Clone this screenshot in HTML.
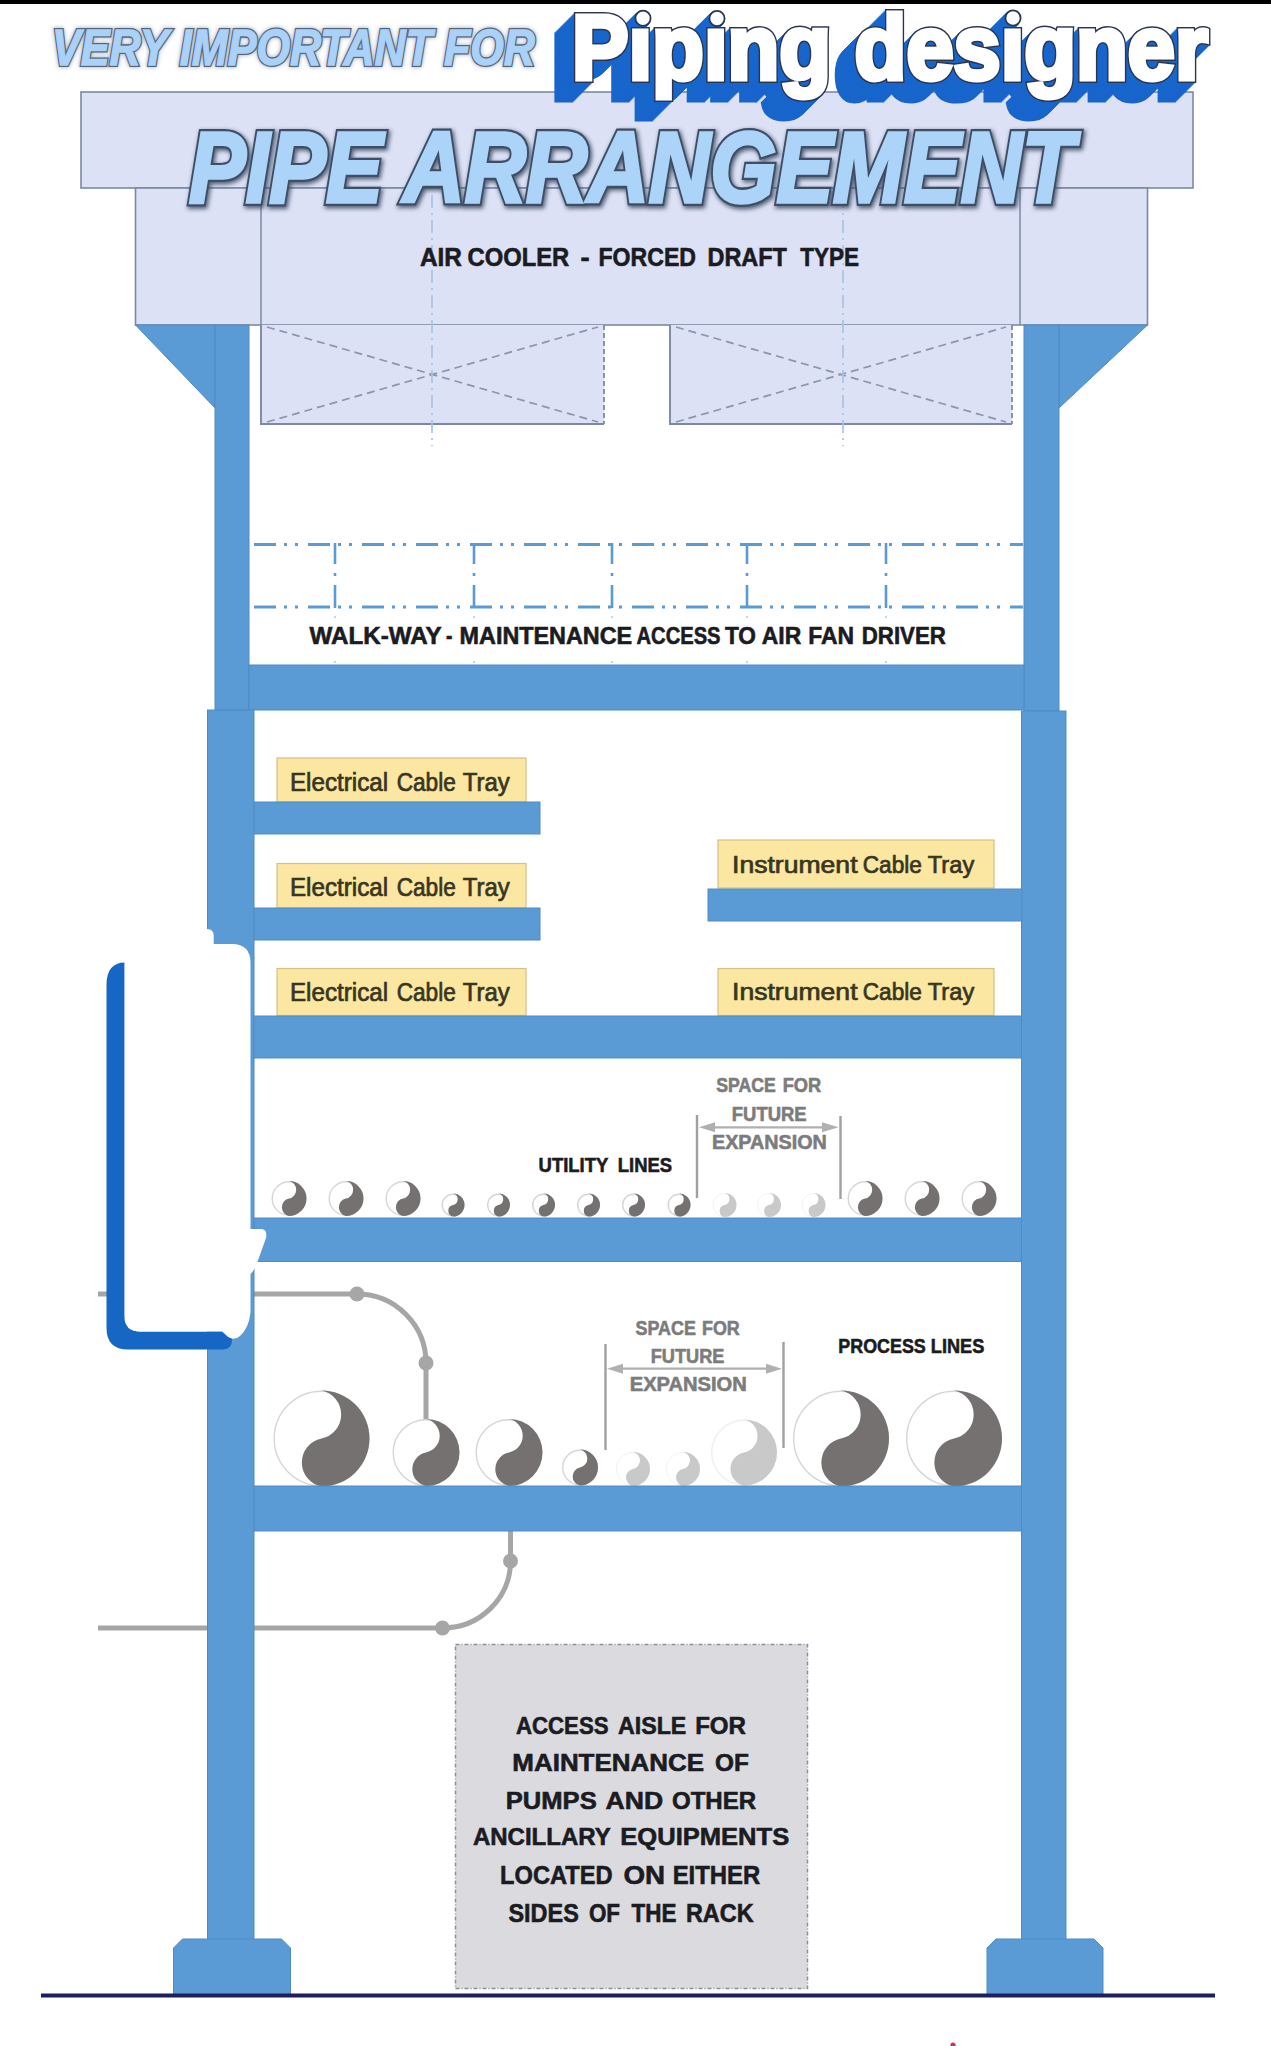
<!DOCTYPE html>
<html><head><meta charset="utf-8"><title>Pipe Arrangement</title>
<style>html,body{margin:0;padding:0;background:#fff;width:1271px;height:2046px;overflow:hidden} svg{display:block}</style>
</head><body>
<svg width="1271" height="2046" viewBox="0 0 1271 2046">
<rect x="0" y="0" width="1271" height="2046" fill="#fff"/>
<rect x="0" y="0" width="1271" height="4" fill="#000"/>
<rect x="81" y="92" width="1112" height="96" fill="#dde1f6" stroke="#7b8aa2" stroke-width="1.6"/>
<rect x="135.5" y="188" width="1012" height="137" fill="#dde1f6" stroke="#7b8aa2" stroke-width="1.6"/>
<line x1="261" y1="188" x2="261" y2="325" stroke="#7b8aa2" stroke-width="1.5"/>
<line x1="1020" y1="188" x2="1020" y2="325" stroke="#7b8aa2" stroke-width="1.5"/>
<rect x="261" y="325" width="343" height="99" fill="#dde1f6"/>
<path d="M261,325 V424 H604" fill="none" stroke="#7b8aa2" stroke-width="1.9"/>
<line x1="604" y1="325" x2="604" y2="424" stroke="#7b8aa2" stroke-width="1.8" stroke-dasharray="5 3"/>
<line x1="267" y1="327" x2="598" y2="422" stroke="#8a96ab" stroke-width="1.7" stroke-dasharray="8 5"/>
<line x1="267" y1="422" x2="598" y2="327" stroke="#8a96ab" stroke-width="1.7" stroke-dasharray="8 5"/>
<rect x="670" y="325" width="342" height="99" fill="#dde1f6"/>
<path d="M670,325 V424 H1012" fill="none" stroke="#7b8aa2" stroke-width="1.9"/>
<line x1="1012" y1="325" x2="1012" y2="424" stroke="#7b8aa2" stroke-width="1.8" stroke-dasharray="5 3"/>
<line x1="676" y1="327" x2="1006" y2="422" stroke="#8a96ab" stroke-width="1.7" stroke-dasharray="8 5"/>
<line x1="676" y1="422" x2="1006" y2="327" stroke="#8a96ab" stroke-width="1.7" stroke-dasharray="8 5"/>
<line x1="432" y1="195" x2="432" y2="446" stroke="#a8c4e6" stroke-width="1.7" stroke-dasharray="13 5 2 5"/>
<line x1="843" y1="195" x2="843" y2="446" stroke="#a8c4e6" stroke-width="1.7" stroke-dasharray="13 5 2 5"/>
<path d="M135.5,325 H215 V408 Z" fill="#5b9bd5" stroke="#4e8bc4" stroke-width="1"/>
<path d="M1059,325 H1147.5 L1059,408 Z" fill="#5b9bd5" stroke="#4e8bc4" stroke-width="1"/>
<rect x="215" y="325" width="34" height="385" fill="#5b9bd5" stroke="#4e8bc4" stroke-width="1"/>
<rect x="1024" y="325" width="35" height="386" fill="#5b9bd5" stroke="#4e8bc4" stroke-width="1"/>
<line x1="254" y1="544.5" x2="1023" y2="544.5" stroke="#5b9bd5" stroke-width="3" stroke-dasharray="22 8 3 8 3 10"/>
<line x1="254" y1="607" x2="1023" y2="607" stroke="#5b9bd5" stroke-width="3" stroke-dasharray="22 8 3 8 3 10"/>
<line x1="335" y1="543" x2="335" y2="608" stroke="#5b9bd5" stroke-width="2.6" stroke-dasharray="21 9 3 9 23"/>
<circle cx="335" cy="617" r="1.2" fill="#c9d6e6"/><circle cx="335" cy="662" r="1.2" fill="#c9d6e6"/>
<line x1="474" y1="543" x2="474" y2="608" stroke="#5b9bd5" stroke-width="2.6" stroke-dasharray="21 9 3 9 23"/>
<circle cx="474" cy="617" r="1.2" fill="#c9d6e6"/><circle cx="474" cy="662" r="1.2" fill="#c9d6e6"/>
<line x1="612" y1="543" x2="612" y2="608" stroke="#5b9bd5" stroke-width="2.6" stroke-dasharray="21 9 3 9 23"/>
<circle cx="612" cy="617" r="1.2" fill="#c9d6e6"/><circle cx="612" cy="662" r="1.2" fill="#c9d6e6"/>
<line x1="747" y1="543" x2="747" y2="608" stroke="#5b9bd5" stroke-width="2.6" stroke-dasharray="21 9 3 9 23"/>
<circle cx="747" cy="617" r="1.2" fill="#c9d6e6"/><circle cx="747" cy="662" r="1.2" fill="#c9d6e6"/>
<line x1="886" y1="543" x2="886" y2="608" stroke="#5b9bd5" stroke-width="2.6" stroke-dasharray="21 9 3 9 23"/>
<circle cx="886" cy="617" r="1.2" fill="#c9d6e6"/><circle cx="886" cy="662" r="1.2" fill="#c9d6e6"/>
<rect x="249" y="665" width="775" height="45" fill="#5b9bd5" stroke="#4e8bc4" stroke-width="1"/>
<path d="M98,1294 H357 A69,69 0 0 1 426,1363 V1420" fill="none" stroke="#a6a6a6" stroke-width="5"/>
<circle cx="357" cy="1294" r="7.5" fill="#a6a6a6"/><circle cx="426" cy="1363" r="7.5" fill="#a6a6a6"/>
<path d="M510.5,1531 V1561 A68,67 0 0 1 442.5,1628 H98" fill="none" stroke="#a6a6a6" stroke-width="5"/>
<circle cx="510.5" cy="1561" r="7.5" fill="#a6a6a6"/><circle cx="442.5" cy="1628" r="7.5" fill="#a6a6a6"/>
<rect x="207.5" y="710" width="46.5" height="1230" fill="#5b9bd5" stroke="#4e8bc4" stroke-width="1"/>
<rect x="1021.5" y="711" width="44.5" height="1229" fill="#5b9bd5" stroke="#4e8bc4" stroke-width="1"/>
<path d="M173.5,1995 V1948 L182.5,1939 H281.5 L290.5,1948 V1995 Z" fill="#5b9bd5" stroke="#4e8bc4" stroke-width="1"/>
<path d="M987,1995 V1948 L996,1939 H1094 L1103,1948 V1995 Z" fill="#5b9bd5" stroke="#4e8bc4" stroke-width="1"/>
<rect x="41" y="1993.5" width="1174" height="4" fill="#1d1f5e"/>
<circle cx="953" cy="2045" r="2.6" fill="#d2305c"/>
<rect x="277" y="758" width="249" height="44" fill="#fbe6a2" stroke="#d5c089" stroke-width="1.2"/>
<rect x="254" y="802" width="286" height="32" fill="#5b9bd5" stroke="#4e8bc4" stroke-width="1"/>
<rect x="277" y="863.5" width="249" height="44.5" fill="#fbe6a2" stroke="#d5c089" stroke-width="1.2"/>
<rect x="254" y="908" width="286" height="32" fill="#5b9bd5" stroke="#4e8bc4" stroke-width="1"/>
<rect x="277" y="968.5" width="249" height="47" fill="#fbe6a2" stroke="#d5c089" stroke-width="1.2"/>
<rect x="718" y="840" width="276" height="48" fill="#fbe6a2" stroke="#d5c089" stroke-width="1.2"/>
<rect x="708" y="889" width="314" height="32" fill="#5b9bd5" stroke="#4e8bc4" stroke-width="1"/>
<rect x="718" y="968.5" width="276" height="47" fill="#fbe6a2" stroke="#d5c089" stroke-width="1.2"/>
<rect x="254" y="1016" width="767.5" height="42" fill="#5b9bd5" stroke="#4e8bc4" stroke-width="1"/>
<line x1="697" y1="1115" x2="697" y2="1198" stroke="#a0a0a0" stroke-width="2.4"/>
<line x1="840.5" y1="1116" x2="840.5" y2="1199" stroke="#a0a0a0" stroke-width="2.4"/>
<line x1="708" y1="1127.3" x2="830" y2="1127.3" stroke="#b0b0b0" stroke-width="2.2"/>
<path d="M699,1127.3 L715,1122.3 L715,1132.3 Z" fill="#b0b0b0"/><path d="M838.5,1127.3 L822,1122.3 L822,1132.3 Z" fill="#b0b0b0"/>
<g><circle cx="289" cy="1198.5" r="16.80" fill="#fff" stroke="#d6d6d6" stroke-width="1.4"/><path d="M289,1181.0 A17.5,17.5 0 0 1 289,1216.0 A8.93,8.93 0 0 1 289,1198.5 A8.93,8.93 0 0 0 289,1181.0 Z" fill="#767171"/></g>
<g><circle cx="346" cy="1198.5" r="16.80" fill="#fff" stroke="#d6d6d6" stroke-width="1.4"/><path d="M346,1181.0 A17.5,17.5 0 0 1 346,1216.0 A8.93,8.93 0 0 1 346,1198.5 A8.93,8.93 0 0 0 346,1181.0 Z" fill="#767171"/></g>
<g><circle cx="403" cy="1198.5" r="16.80" fill="#fff" stroke="#d6d6d6" stroke-width="1.4"/><path d="M403,1181.0 A17.5,17.5 0 0 1 403,1216.0 A8.93,8.93 0 0 1 403,1198.5 A8.93,8.93 0 0 0 403,1181.0 Z" fill="#767171"/></g>
<g><circle cx="453" cy="1205" r="10.80" fill="#fff" stroke="#d6d6d6" stroke-width="1.4"/><path d="M453,1193.5 A11.5,11.5 0 0 1 453,1216.5 A5.87,5.87 0 0 1 453,1205 A5.87,5.87 0 0 0 453,1193.5 Z" fill="#767171"/></g>
<g><circle cx="498.5" cy="1205" r="10.80" fill="#fff" stroke="#d6d6d6" stroke-width="1.4"/><path d="M498.5,1193.5 A11.5,11.5 0 0 1 498.5,1216.5 A5.87,5.87 0 0 1 498.5,1205 A5.87,5.87 0 0 0 498.5,1193.5 Z" fill="#767171"/></g>
<g><circle cx="543.5" cy="1205" r="10.80" fill="#fff" stroke="#d6d6d6" stroke-width="1.4"/><path d="M543.5,1193.5 A11.5,11.5 0 0 1 543.5,1216.5 A5.87,5.87 0 0 1 543.5,1205 A5.87,5.87 0 0 0 543.5,1193.5 Z" fill="#767171"/></g>
<g><circle cx="588.5" cy="1205" r="10.80" fill="#fff" stroke="#d6d6d6" stroke-width="1.4"/><path d="M588.5,1193.5 A11.5,11.5 0 0 1 588.5,1216.5 A5.87,5.87 0 0 1 588.5,1205 A5.87,5.87 0 0 0 588.5,1193.5 Z" fill="#767171"/></g>
<g><circle cx="633.5" cy="1205" r="10.80" fill="#fff" stroke="#d6d6d6" stroke-width="1.4"/><path d="M633.5,1193.5 A11.5,11.5 0 0 1 633.5,1216.5 A5.87,5.87 0 0 1 633.5,1205 A5.87,5.87 0 0 0 633.5,1193.5 Z" fill="#767171"/></g>
<g><circle cx="679" cy="1205" r="10.80" fill="#fff" stroke="#d6d6d6" stroke-width="1.4"/><path d="M679,1193.5 A11.5,11.5 0 0 1 679,1216.5 A5.87,5.87 0 0 1 679,1205 A5.87,5.87 0 0 0 679,1193.5 Z" fill="#767171"/></g>
<g><circle cx="724.5" cy="1205" r="11.50" fill="#fff" stroke="#f2f2f2" stroke-width="1"/><path d="M724.5,1193 A12,12 0 0 1 724.5,1217 A6.12,6.12 0 0 1 724.5,1205 A6.12,6.12 0 0 0 724.5,1193 Z" fill="#c9c9c9"/></g>
<g><circle cx="769" cy="1205" r="11.50" fill="#fff" stroke="#f2f2f2" stroke-width="1"/><path d="M769,1193 A12,12 0 0 1 769,1217 A6.12,6.12 0 0 1 769,1205 A6.12,6.12 0 0 0 769,1193 Z" fill="#c9c9c9"/></g>
<g><circle cx="813.5" cy="1205" r="11.50" fill="#fff" stroke="#f2f2f2" stroke-width="1"/><path d="M813.5,1193 A12,12 0 0 1 813.5,1217 A6.12,6.12 0 0 1 813.5,1205 A6.12,6.12 0 0 0 813.5,1193 Z" fill="#c9c9c9"/></g>
<g><circle cx="865" cy="1198.5" r="16.80" fill="#fff" stroke="#d6d6d6" stroke-width="1.4"/><path d="M865,1181.0 A17.5,17.5 0 0 1 865,1216.0 A8.93,8.93 0 0 1 865,1198.5 A8.93,8.93 0 0 0 865,1181.0 Z" fill="#767171"/></g>
<g><circle cx="922" cy="1198.5" r="16.80" fill="#fff" stroke="#d6d6d6" stroke-width="1.4"/><path d="M922,1181.0 A17.5,17.5 0 0 1 922,1216.0 A8.93,8.93 0 0 1 922,1198.5 A8.93,8.93 0 0 0 922,1181.0 Z" fill="#767171"/></g>
<g><circle cx="979" cy="1198.5" r="16.80" fill="#fff" stroke="#d6d6d6" stroke-width="1.4"/><path d="M979,1181.0 A17.5,17.5 0 0 1 979,1216.0 A8.93,8.93 0 0 1 979,1198.5 A8.93,8.93 0 0 0 979,1181.0 Z" fill="#767171"/></g>
<rect x="254" y="1218" width="767.5" height="43.5" fill="#5b9bd5" stroke="#4e8bc4" stroke-width="1"/>
<g><circle cx="321.5" cy="1438.5" r="47.30" fill="#fff" stroke="#d6d6d6" stroke-width="1.4"/><path d="M321.5,1390.5 A48,48 0 0 1 321.5,1486.5 A24.48,24.48 0 0 1 321.5,1438.5 A24.48,24.48 0 0 0 321.5,1390.5 Z" fill="#767171"/></g>
<g><circle cx="426" cy="1452.5" r="32.80" fill="#fff" stroke="#d6d6d6" stroke-width="1.4"/><path d="M426,1419.0 A33.5,33.5 0 0 1 426,1486.0 A17.09,17.09 0 0 1 426,1452.5 A17.09,17.09 0 0 0 426,1419.0 Z" fill="#767171"/></g>
<g><circle cx="509" cy="1452.5" r="32.80" fill="#fff" stroke="#d6d6d6" stroke-width="1.4"/><path d="M509,1419.0 A33.5,33.5 0 0 1 509,1486.0 A17.09,17.09 0 0 1 509,1452.5 A17.09,17.09 0 0 0 509,1419.0 Z" fill="#767171"/></g>
<g><circle cx="580" cy="1467.5" r="17.30" fill="#fff" stroke="#d6d6d6" stroke-width="1.4"/><path d="M580,1449.5 A18,18 0 0 1 580,1485.5 A9.18,9.18 0 0 1 580,1467.5 A9.18,9.18 0 0 0 580,1449.5 Z" fill="#767171"/></g>
<g><circle cx="633" cy="1469" r="16.50" fill="#fff" stroke="#f2f2f2" stroke-width="1"/><path d="M633,1452 A17,17 0 0 1 633,1486 A8.67,8.67 0 0 1 633,1469 A8.67,8.67 0 0 0 633,1452 Z" fill="#c9c9c9"/></g>
<g><circle cx="683" cy="1469" r="16.50" fill="#fff" stroke="#f2f2f2" stroke-width="1"/><path d="M683,1452 A17,17 0 0 1 683,1486 A8.67,8.67 0 0 1 683,1469 A8.67,8.67 0 0 0 683,1452 Z" fill="#c9c9c9"/></g>
<g><circle cx="744" cy="1452.5" r="32.30" fill="#fff" stroke="#efefef" stroke-width="1.4"/><path d="M744,1419.5 A33,33 0 0 1 744,1485.5 A16.83,16.83 0 0 1 744,1452.5 A16.83,16.83 0 0 0 744,1419.5 Z" fill="#c9c9c9"/></g>
<g><circle cx="841" cy="1438.5" r="47.30" fill="#fff" stroke="#d6d6d6" stroke-width="1.4"/><path d="M841,1390.5 A48,48 0 0 1 841,1486.5 A24.48,24.48 0 0 1 841,1438.5 A24.48,24.48 0 0 0 841,1390.5 Z" fill="#767171"/></g>
<g><circle cx="954" cy="1438.5" r="47.30" fill="#fff" stroke="#d6d6d6" stroke-width="1.4"/><path d="M954,1390.5 A48,48 0 0 1 954,1486.5 A24.48,24.48 0 0 1 954,1438.5 A24.48,24.48 0 0 0 954,1390.5 Z" fill="#767171"/></g>
<line x1="605.5" y1="1344" x2="605.5" y2="1450" stroke="#a0a0a0" stroke-width="2.4"/>
<line x1="783.5" y1="1342" x2="783.5" y2="1448" stroke="#a0a0a0" stroke-width="2.4"/>
<line x1="616" y1="1368.7" x2="773" y2="1368.7" stroke="#b0b0b0" stroke-width="2.2"/>
<path d="M607,1368.7 L623,1363.7 L623,1373.7 Z" fill="#b0b0b0"/><path d="M782,1368.7 L766,1363.7 L766,1373.7 Z" fill="#b0b0b0"/>
<rect x="254" y="1486" width="767.5" height="45" fill="#5b9bd5" stroke="#4e8bc4" stroke-width="1"/>
<rect x="455.5" y="1644.5" width="352" height="344" fill="#dbdbdf" stroke="#8a8f99" stroke-width="1.5" stroke-dasharray="4 2 1 2"/>
<text x="419.89" y="266.0" font-size="25.44" font-weight="bold" fill="#1b1b22" stroke="#1b1b22" stroke-width="0.6" textLength="42.03" lengthAdjust="spacingAndGlyphs" style="font-family:'Liberation Sans',sans-serif" >AIR</text>
<text x="467.48" y="266.0" font-size="25.44" font-weight="bold" fill="#1b1b22" stroke="#1b1b22" stroke-width="0.6" textLength="101.74" lengthAdjust="spacingAndGlyphs" style="font-family:'Liberation Sans',sans-serif" >COOLER</text>
<text x="580.63" y="266.0" font-size="25.44" font-weight="bold" fill="#1b1b22" stroke="#1b1b22" stroke-width="0.6" textLength="9.13" lengthAdjust="spacingAndGlyphs" style="font-family:'Liberation Sans',sans-serif" >-</text>
<text x="598.49" y="266.0" font-size="25.44" font-weight="bold" fill="#1b1b22" stroke="#1b1b22" stroke-width="0.6" textLength="97.52" lengthAdjust="spacingAndGlyphs" style="font-family:'Liberation Sans',sans-serif" >FORCED</text>
<text x="707.50" y="266.0" font-size="25.44" font-weight="bold" fill="#1b1b22" stroke="#1b1b22" stroke-width="0.6" textLength="79.44" lengthAdjust="spacingAndGlyphs" style="font-family:'Liberation Sans',sans-serif" >DRAFT</text>
<text x="800.24" y="266.0" font-size="25.44" font-weight="bold" fill="#1b1b22" stroke="#1b1b22" stroke-width="0.6" textLength="58.77" lengthAdjust="spacingAndGlyphs" style="font-family:'Liberation Sans',sans-serif" >TYPE</text>
<text x="309.55" y="644.0" font-size="23.98" font-weight="bold" fill="#1b1b22" stroke="#1b1b22" stroke-width="0.6" textLength="132.03" lengthAdjust="spacingAndGlyphs" style="font-family:'Liberation Sans',sans-serif" >WALK-WAY</text>
<text x="445.92" y="644.0" font-size="23.98" font-weight="bold" fill="#1b1b22" stroke="#1b1b22" stroke-width="0.6" textLength="6.41" lengthAdjust="spacingAndGlyphs" style="font-family:'Liberation Sans',sans-serif" >-</text>
<text x="459.57" y="644.0" font-size="23.98" font-weight="bold" fill="#1b1b22" stroke="#1b1b22" stroke-width="0.6" textLength="172.59" lengthAdjust="spacingAndGlyphs" style="font-family:'Liberation Sans',sans-serif" >MAINTENANCE</text>
<text x="636.57" y="644.0" font-size="23.98" font-weight="bold" fill="#1b1b22" stroke="#1b1b22" stroke-width="0.6" textLength="84.00" lengthAdjust="spacingAndGlyphs" style="font-family:'Liberation Sans',sans-serif" >ACCESS</text>
<text x="724.92" y="644.0" font-size="23.98" font-weight="bold" fill="#1b1b22" stroke="#1b1b22" stroke-width="0.6" textLength="31.08" lengthAdjust="spacingAndGlyphs" style="font-family:'Liberation Sans',sans-serif" >TO</text>
<text x="761.77" y="644.0" font-size="23.98" font-weight="bold" fill="#1b1b22" stroke="#1b1b22" stroke-width="0.6" textLength="39.40" lengthAdjust="spacingAndGlyphs" style="font-family:'Liberation Sans',sans-serif" >AIR</text>
<text x="808.16" y="644.0" font-size="23.98" font-weight="bold" fill="#1b1b22" stroke="#1b1b22" stroke-width="0.6" textLength="45.79" lengthAdjust="spacingAndGlyphs" style="font-family:'Liberation Sans',sans-serif" >FAN</text>
<text x="861.79" y="644.0" font-size="23.98" font-weight="bold" fill="#1b1b22" stroke="#1b1b22" stroke-width="0.6" textLength="84.00" lengthAdjust="spacingAndGlyphs" style="font-family:'Liberation Sans',sans-serif" >DRIVER</text>
<text x="289.98" y="790.5" font-size="25.00" font-weight="normal" fill="#38361f" stroke="#38361f" stroke-width="0.7" textLength="98.24" lengthAdjust="spacingAndGlyphs" style="font-family:'Liberation Sans',sans-serif" >Electrical</text>
<text x="396.66" y="790.5" font-size="25.00" font-weight="normal" fill="#38361f" stroke="#38361f" stroke-width="0.7" textLength="59.18" lengthAdjust="spacingAndGlyphs" style="font-family:'Liberation Sans',sans-serif" >Cable</text>
<text x="462.77" y="790.5" font-size="25.00" font-weight="normal" fill="#38361f" stroke="#38361f" stroke-width="0.7" textLength="47.00" lengthAdjust="spacingAndGlyphs" style="font-family:'Liberation Sans',sans-serif" >Tray</text>
<text x="289.98" y="895.9" font-size="25.00" font-weight="normal" fill="#38361f" stroke="#38361f" stroke-width="0.7" textLength="98.24" lengthAdjust="spacingAndGlyphs" style="font-family:'Liberation Sans',sans-serif" >Electrical</text>
<text x="396.66" y="895.9" font-size="25.00" font-weight="normal" fill="#38361f" stroke="#38361f" stroke-width="0.7" textLength="59.18" lengthAdjust="spacingAndGlyphs" style="font-family:'Liberation Sans',sans-serif" >Cable</text>
<text x="462.77" y="895.9" font-size="25.00" font-weight="normal" fill="#38361f" stroke="#38361f" stroke-width="0.7" textLength="47.00" lengthAdjust="spacingAndGlyphs" style="font-family:'Liberation Sans',sans-serif" >Tray</text>
<text x="289.98" y="1001.0" font-size="25.00" font-weight="normal" fill="#38361f" stroke="#38361f" stroke-width="0.7" textLength="98.24" lengthAdjust="spacingAndGlyphs" style="font-family:'Liberation Sans',sans-serif" >Electrical</text>
<text x="396.66" y="1001.0" font-size="25.00" font-weight="normal" fill="#38361f" stroke="#38361f" stroke-width="0.7" textLength="59.18" lengthAdjust="spacingAndGlyphs" style="font-family:'Liberation Sans',sans-serif" >Cable</text>
<text x="462.77" y="1001.0" font-size="25.00" font-weight="normal" fill="#38361f" stroke="#38361f" stroke-width="0.7" textLength="47.00" lengthAdjust="spacingAndGlyphs" style="font-family:'Liberation Sans',sans-serif" >Tray</text>
<text x="732.07" y="872.8" font-size="23.98" font-weight="normal" fill="#38361f" stroke="#38361f" stroke-width="0.7" textLength="125.45" lengthAdjust="spacingAndGlyphs" style="font-family:'Liberation Sans',sans-serif" >Instrument</text>
<text x="862.70" y="872.8" font-size="23.98" font-weight="normal" fill="#38361f" stroke="#38361f" stroke-width="0.7" textLength="59.25" lengthAdjust="spacingAndGlyphs" style="font-family:'Liberation Sans',sans-serif" >Cable</text>
<text x="927.76" y="872.8" font-size="23.98" font-weight="normal" fill="#38361f" stroke="#38361f" stroke-width="0.7" textLength="46.55" lengthAdjust="spacingAndGlyphs" style="font-family:'Liberation Sans',sans-serif" >Tray</text>
<text x="732.07" y="999.8" font-size="23.98" font-weight="normal" fill="#38361f" stroke="#38361f" stroke-width="0.7" textLength="125.45" lengthAdjust="spacingAndGlyphs" style="font-family:'Liberation Sans',sans-serif" >Instrument</text>
<text x="862.70" y="999.8" font-size="23.98" font-weight="normal" fill="#38361f" stroke="#38361f" stroke-width="0.7" textLength="59.25" lengthAdjust="spacingAndGlyphs" style="font-family:'Liberation Sans',sans-serif" >Cable</text>
<text x="927.76" y="999.8" font-size="23.98" font-weight="normal" fill="#38361f" stroke="#38361f" stroke-width="0.7" textLength="46.55" lengthAdjust="spacingAndGlyphs" style="font-family:'Liberation Sans',sans-serif" >Tray</text>
<text x="716.32" y="1092.2" font-size="19.48" font-weight="bold" fill="#7c7c7c" stroke="#7c7c7c" stroke-width="0.6" textLength="59.48" lengthAdjust="spacingAndGlyphs" style="font-family:'Liberation Sans',sans-serif" >SPACE</text>
<text x="782.72" y="1092.2" font-size="19.48" font-weight="bold" fill="#7c7c7c" stroke="#7c7c7c" stroke-width="0.6" textLength="38.48" lengthAdjust="spacingAndGlyphs" style="font-family:'Liberation Sans',sans-serif" >FOR</text>
<text x="731.80" y="1121.2" font-size="20.06" font-weight="bold" fill="#7c7c7c" stroke="#7c7c7c" stroke-width="0.6" textLength="74.82" lengthAdjust="spacingAndGlyphs" style="font-family:'Liberation Sans',sans-serif" >FUTURE</text>
<text x="711.99" y="1149.3" font-size="20.06" font-weight="bold" fill="#7c7c7c" stroke="#7c7c7c" stroke-width="0.6" textLength="114.81" lengthAdjust="spacingAndGlyphs" style="font-family:'Liberation Sans',sans-serif" >EXPANSION</text>
<text x="538.57" y="1171.8" font-size="20.49" font-weight="bold" fill="#1b1b22" stroke="#1b1b22" stroke-width="0.6" textLength="69.76" lengthAdjust="spacingAndGlyphs" style="font-family:'Liberation Sans',sans-serif" >UTILITY</text>
<text x="617.78" y="1171.8" font-size="20.49" font-weight="bold" fill="#1b1b22" stroke="#1b1b22" stroke-width="0.6" textLength="54.24" lengthAdjust="spacingAndGlyphs" style="font-family:'Liberation Sans',sans-serif" >LINES</text>
<text x="635.57" y="1334.6" font-size="20.79" font-weight="bold" fill="#7c7c7c" stroke="#7c7c7c" stroke-width="0.6" textLength="60.27" lengthAdjust="spacingAndGlyphs" style="font-family:'Liberation Sans',sans-serif" >SPACE</text>
<text x="701.97" y="1334.6" font-size="20.79" font-weight="bold" fill="#7c7c7c" stroke="#7c7c7c" stroke-width="0.6" textLength="37.85" lengthAdjust="spacingAndGlyphs" style="font-family:'Liberation Sans',sans-serif" >FOR</text>
<text x="650.77" y="1363.2" font-size="20.79" font-weight="bold" fill="#7c7c7c" stroke="#7c7c7c" stroke-width="0.6" textLength="73.68" lengthAdjust="spacingAndGlyphs" style="font-family:'Liberation Sans',sans-serif" >FUTURE</text>
<text x="629.78" y="1390.8" font-size="20.06" font-weight="bold" fill="#7c7c7c" stroke="#7c7c7c" stroke-width="0.6" textLength="117.01" lengthAdjust="spacingAndGlyphs" style="font-family:'Liberation Sans',sans-serif" >EXPANSION</text>
<text x="838.35" y="1352.7" font-size="21.08" font-weight="bold" fill="#1b1b22" stroke="#1b1b22" stroke-width="0.6" textLength="87.39" lengthAdjust="spacingAndGlyphs" style="font-family:'Liberation Sans',sans-serif" >PROCESS</text>
<text x="930.86" y="1352.7" font-size="21.08" font-weight="bold" fill="#1b1b22" stroke="#1b1b22" stroke-width="0.6" textLength="53.40" lengthAdjust="spacingAndGlyphs" style="font-family:'Liberation Sans',sans-serif" >LINES</text>
<text x="515.93" y="1733.5" font-size="24.13" font-weight="bold" fill="#1b1b22" stroke="#1b1b22" stroke-width="0.6" textLength="92.63" lengthAdjust="spacingAndGlyphs" style="font-family:'Liberation Sans',sans-serif" >ACCESS</text>
<text x="617.95" y="1733.5" font-size="24.13" font-weight="bold" fill="#1b1b22" stroke="#1b1b22" stroke-width="0.6" textLength="68.43" lengthAdjust="spacingAndGlyphs" style="font-family:'Liberation Sans',sans-serif" >AISLE</text>
<text x="695.15" y="1733.5" font-size="24.13" font-weight="bold" fill="#1b1b22" stroke="#1b1b22" stroke-width="0.6" textLength="50.85" lengthAdjust="spacingAndGlyphs" style="font-family:'Liberation Sans',sans-serif" >FOR</text>
<text x="512.35" y="1770.9" font-size="24.13" font-weight="bold" fill="#1b1b22" stroke="#1b1b22" stroke-width="0.6" textLength="191.63" lengthAdjust="spacingAndGlyphs" style="font-family:'Liberation Sans',sans-serif" >MAINTENANCE</text>
<text x="714.95" y="1770.9" font-size="24.13" font-weight="bold" fill="#1b1b22" stroke="#1b1b22" stroke-width="0.6" textLength="33.83" lengthAdjust="spacingAndGlyphs" style="font-family:'Liberation Sans',sans-serif" >OF</text>
<text x="505.75" y="1808.6" font-size="24.13" font-weight="bold" fill="#1b1b22" stroke="#1b1b22" stroke-width="0.6" textLength="91.01" lengthAdjust="spacingAndGlyphs" style="font-family:'Liberation Sans',sans-serif" >PUMPS</text>
<text x="605.56" y="1808.6" font-size="24.13" font-weight="bold" fill="#1b1b22" stroke="#1b1b22" stroke-width="0.6" textLength="57.61" lengthAdjust="spacingAndGlyphs" style="font-family:'Liberation Sans',sans-serif" >AND</text>
<text x="671.96" y="1808.6" font-size="24.13" font-weight="bold" fill="#1b1b22" stroke="#1b1b22" stroke-width="0.6" textLength="84.22" lengthAdjust="spacingAndGlyphs" style="font-family:'Liberation Sans',sans-serif" >OTHER</text>
<text x="472.92" y="1845.3" font-size="24.71" font-weight="bold" fill="#1b1b22" stroke="#1b1b22" stroke-width="0.6" textLength="137.87" lengthAdjust="spacingAndGlyphs" style="font-family:'Liberation Sans',sans-serif" >ANCILLARY</text>
<text x="620.32" y="1845.3" font-size="24.71" font-weight="bold" fill="#1b1b22" stroke="#1b1b22" stroke-width="0.6" textLength="168.88" lengthAdjust="spacingAndGlyphs" style="font-family:'Liberation Sans',sans-serif" >EQUIPMENTS</text>
<text x="500.04" y="1884.0" font-size="26.16" font-weight="bold" fill="#1b1b22" stroke="#1b1b22" stroke-width="0.6" textLength="112.60" lengthAdjust="spacingAndGlyphs" style="font-family:'Liberation Sans',sans-serif" >LOCATED</text>
<text x="623.40" y="1884.0" font-size="26.16" font-weight="bold" fill="#1b1b22" stroke="#1b1b22" stroke-width="0.6" textLength="41.64" lengthAdjust="spacingAndGlyphs" style="font-family:'Liberation Sans',sans-serif" >ON</text>
<text x="672.64" y="1884.0" font-size="26.16" font-weight="bold" fill="#1b1b22" stroke="#1b1b22" stroke-width="0.6" textLength="87.61" lengthAdjust="spacingAndGlyphs" style="font-family:'Liberation Sans',sans-serif" >EITHER</text>
<text x="508.47" y="1921.8" font-size="25.15" font-weight="bold" fill="#1b1b22" stroke="#1b1b22" stroke-width="0.6" textLength="70.35" lengthAdjust="spacingAndGlyphs" style="font-family:'Liberation Sans',sans-serif" >SIDES</text>
<text x="588.90" y="1921.8" font-size="25.15" font-weight="bold" fill="#1b1b22" stroke="#1b1b22" stroke-width="0.6" textLength="31.13" lengthAdjust="spacingAndGlyphs" style="font-family:'Liberation Sans',sans-serif" >OF</text>
<text x="631.47" y="1921.8" font-size="25.15" font-weight="bold" fill="#1b1b22" stroke="#1b1b22" stroke-width="0.6" textLength="44.93" lengthAdjust="spacingAndGlyphs" style="font-family:'Liberation Sans',sans-serif" >THE</text>
<text x="685.92" y="1921.8" font-size="25.15" font-weight="bold" fill="#1b1b22" stroke="#1b1b22" stroke-width="0.6" textLength="67.71" lengthAdjust="spacingAndGlyphs" style="font-family:'Liberation Sans',sans-serif" >RACK</text>
<path d="M106.5,985 Q106.5,962.5 125,962.5 V1316 Q125,1331.5 140,1331.5 H222 Q232,1331.5 232,1340.5 Q232,1349.5 222,1349.5 H128 Q106.5,1349.5 106.5,1328 Z" fill="#1666c4"/>
<path d="M124.4,1333 V944 H207 V929 Q213.7,929 213.7,936 V944 H232 Q250.5,944 250.5,963 V1229 H262 Q267.5,1230 266,1238 L256,1266 Q253,1272 250.5,1274 V1312 Q249,1328 240,1336 Q233,1342 226,1335 L222,1331.5 H140 Q124.4,1331.5 124.4,1316 Z" fill="#fff"/>
<defs><filter id="blur1" x="-5%" y="-20%" width="110%" height="140%"><feGaussianBlur stdDeviation="2.2"/></filter></defs>
<g filter="url(#blur1)" opacity="0.85" transform="translate(1.5,2.5)"><text x="189" y="201.5" font-size="101" font-weight="bold" textLength="885" lengthAdjust="spacingAndGlyphs" style="font-family:'Liberation Sans',sans-serif;font-style:italic" fill="#3b4b62" stroke="#3b4b62" stroke-width="9">PIPE ARRANGEMENT</text></g>
<text x="189" y="201.5" font-size="101" font-weight="bold" textLength="885" lengthAdjust="spacingAndGlyphs" style="font-family:'Liberation Sans',sans-serif;font-style:italic" fill="#acd3f8" stroke="#3e4e66" stroke-width="8">PIPE ARRANGEMENT</text>
<text x="189" y="201.5" font-size="101" font-weight="bold" textLength="885" lengthAdjust="spacingAndGlyphs" style="font-family:'Liberation Sans',sans-serif;font-style:italic" fill="#acd3f8" stroke="#acd3f8" stroke-width="3.6">PIPE ARRANGEMENT</text>
<g filter="url(#blur1)" opacity="0.5"><text x="52" y="65.3" font-size="50.5" font-weight="bold" textLength="483" lengthAdjust="spacingAndGlyphs" style="font-family:'Liberation Sans',sans-serif;font-style:italic" fill="#50607a" stroke="#50607a" stroke-width="4.5">VERY IMPORTANT FOR</text></g>
<text x="52" y="65.3" font-size="50.5" font-weight="bold" textLength="483" lengthAdjust="spacingAndGlyphs" style="font-family:'Liberation Sans',sans-serif;font-style:italic" fill="#aad1f7" stroke="#56657c" stroke-width="4">VERY IMPORTANT FOR</text>
<text x="52" y="65.3" font-size="50.5" font-weight="bold" textLength="483" lengthAdjust="spacingAndGlyphs" style="font-family:'Liberation Sans',sans-serif;font-style:italic" fill="#aad1f7" stroke="#aad1f7" stroke-width="1.4">VERY IMPORTANT FOR</text>
<text font-size="90.5" font-weight="bold" textLength="636" lengthAdjust="spacingAndGlyphs" style="font-family:'Liberation Sans',sans-serif" x="552" y="99" fill="#1866cc" stroke="#1866cc" stroke-width="7">P&#305;p&#305;ng des&#305;gner</text>
<circle cx="623" cy="38.2" r="8.5" fill="#1866cc"/>
<circle cx="697" cy="38.5" r="8.5" fill="#1866cc"/>
<circle cx="993" cy="38" r="8.5" fill="#1866cc"/>
<text font-size="90.5" font-weight="bold" textLength="636" lengthAdjust="spacingAndGlyphs" style="font-family:'Liberation Sans',sans-serif" x="553" y="98" fill="#1866cc" stroke="#1866cc" stroke-width="7">P&#305;p&#305;ng des&#305;gner</text>
<circle cx="624" cy="37.2" r="8.5" fill="#1866cc"/>
<circle cx="698" cy="37.5" r="8.5" fill="#1866cc"/>
<circle cx="994" cy="37" r="8.5" fill="#1866cc"/>
<text font-size="90.5" font-weight="bold" textLength="636" lengthAdjust="spacingAndGlyphs" style="font-family:'Liberation Sans',sans-serif" x="554" y="97" fill="#1866cc" stroke="#1866cc" stroke-width="7">P&#305;p&#305;ng des&#305;gner</text>
<circle cx="625" cy="36.2" r="8.5" fill="#1866cc"/>
<circle cx="699" cy="36.5" r="8.5" fill="#1866cc"/>
<circle cx="995" cy="36" r="8.5" fill="#1866cc"/>
<text font-size="90.5" font-weight="bold" textLength="636" lengthAdjust="spacingAndGlyphs" style="font-family:'Liberation Sans',sans-serif" x="555" y="96" fill="#1866cc" stroke="#1866cc" stroke-width="7">P&#305;p&#305;ng des&#305;gner</text>
<circle cx="626" cy="35.2" r="8.5" fill="#1866cc"/>
<circle cx="700" cy="35.5" r="8.5" fill="#1866cc"/>
<circle cx="996" cy="35" r="8.5" fill="#1866cc"/>
<text font-size="90.5" font-weight="bold" textLength="636" lengthAdjust="spacingAndGlyphs" style="font-family:'Liberation Sans',sans-serif" x="556" y="95" fill="#1866cc" stroke="#1866cc" stroke-width="7">P&#305;p&#305;ng des&#305;gner</text>
<circle cx="627" cy="34.2" r="8.5" fill="#1866cc"/>
<circle cx="701" cy="34.5" r="8.5" fill="#1866cc"/>
<circle cx="997" cy="34" r="8.5" fill="#1866cc"/>
<text font-size="90.5" font-weight="bold" textLength="636" lengthAdjust="spacingAndGlyphs" style="font-family:'Liberation Sans',sans-serif" x="557" y="94" fill="#1866cc" stroke="#1866cc" stroke-width="7">P&#305;p&#305;ng des&#305;gner</text>
<circle cx="628" cy="33.2" r="8.5" fill="#1866cc"/>
<circle cx="702" cy="33.5" r="8.5" fill="#1866cc"/>
<circle cx="998" cy="33" r="8.5" fill="#1866cc"/>
<text font-size="90.5" font-weight="bold" textLength="636" lengthAdjust="spacingAndGlyphs" style="font-family:'Liberation Sans',sans-serif" x="558" y="93" fill="#1866cc" stroke="#1866cc" stroke-width="7">P&#305;p&#305;ng des&#305;gner</text>
<circle cx="629" cy="32.2" r="8.5" fill="#1866cc"/>
<circle cx="703" cy="32.5" r="8.5" fill="#1866cc"/>
<circle cx="999" cy="32" r="8.5" fill="#1866cc"/>
<text font-size="90.5" font-weight="bold" textLength="636" lengthAdjust="spacingAndGlyphs" style="font-family:'Liberation Sans',sans-serif" x="559" y="92" fill="#1866cc" stroke="#1866cc" stroke-width="7">P&#305;p&#305;ng des&#305;gner</text>
<circle cx="630" cy="31.2" r="8.5" fill="#1866cc"/>
<circle cx="704" cy="31.5" r="8.5" fill="#1866cc"/>
<circle cx="1000" cy="31" r="8.5" fill="#1866cc"/>
<text font-size="90.5" font-weight="bold" textLength="636" lengthAdjust="spacingAndGlyphs" style="font-family:'Liberation Sans',sans-serif" x="560" y="91" fill="#1866cc" stroke="#1866cc" stroke-width="7">P&#305;p&#305;ng des&#305;gner</text>
<circle cx="631" cy="30.2" r="8.5" fill="#1866cc"/>
<circle cx="705" cy="30.5" r="8.5" fill="#1866cc"/>
<circle cx="1001" cy="30" r="8.5" fill="#1866cc"/>
<text font-size="90.5" font-weight="bold" textLength="636" lengthAdjust="spacingAndGlyphs" style="font-family:'Liberation Sans',sans-serif" x="561" y="90" fill="#1866cc" stroke="#1866cc" stroke-width="7">P&#305;p&#305;ng des&#305;gner</text>
<circle cx="632" cy="29.2" r="8.5" fill="#1866cc"/>
<circle cx="706" cy="29.5" r="8.5" fill="#1866cc"/>
<circle cx="1002" cy="29" r="8.5" fill="#1866cc"/>
<text font-size="90.5" font-weight="bold" textLength="636" lengthAdjust="spacingAndGlyphs" style="font-family:'Liberation Sans',sans-serif" x="562" y="89" fill="#1866cc" stroke="#1866cc" stroke-width="7">P&#305;p&#305;ng des&#305;gner</text>
<circle cx="633" cy="28.2" r="8.5" fill="#1866cc"/>
<circle cx="707" cy="28.5" r="8.5" fill="#1866cc"/>
<circle cx="1003" cy="28" r="8.5" fill="#1866cc"/>
<text font-size="90.5" font-weight="bold" textLength="636" lengthAdjust="spacingAndGlyphs" style="font-family:'Liberation Sans',sans-serif" x="563" y="88" fill="#1866cc" stroke="#1866cc" stroke-width="7">P&#305;p&#305;ng des&#305;gner</text>
<circle cx="634" cy="27.2" r="8.5" fill="#1866cc"/>
<circle cx="708" cy="27.5" r="8.5" fill="#1866cc"/>
<circle cx="1004" cy="27" r="8.5" fill="#1866cc"/>
<text font-size="90.5" font-weight="bold" textLength="636" lengthAdjust="spacingAndGlyphs" style="font-family:'Liberation Sans',sans-serif" x="564" y="87" fill="#1866cc" stroke="#1866cc" stroke-width="7">P&#305;p&#305;ng des&#305;gner</text>
<circle cx="635" cy="26.2" r="8.5" fill="#1866cc"/>
<circle cx="709" cy="26.5" r="8.5" fill="#1866cc"/>
<circle cx="1005" cy="26" r="8.5" fill="#1866cc"/>
<text font-size="90.5" font-weight="bold" textLength="636" lengthAdjust="spacingAndGlyphs" style="font-family:'Liberation Sans',sans-serif" x="565" y="86" fill="#1866cc" stroke="#1866cc" stroke-width="7">P&#305;p&#305;ng des&#305;gner</text>
<circle cx="636" cy="25.2" r="8.5" fill="#1866cc"/>
<circle cx="710" cy="25.5" r="8.5" fill="#1866cc"/>
<circle cx="1006" cy="25" r="8.5" fill="#1866cc"/>
<text font-size="90.5" font-weight="bold" textLength="636" lengthAdjust="spacingAndGlyphs" style="font-family:'Liberation Sans',sans-serif" x="566" y="85" fill="#1866cc" stroke="#1866cc" stroke-width="7">P&#305;p&#305;ng des&#305;gner</text>
<circle cx="637" cy="24.2" r="8.5" fill="#1866cc"/>
<circle cx="711" cy="24.5" r="8.5" fill="#1866cc"/>
<circle cx="1007" cy="24" r="8.5" fill="#1866cc"/>
<text font-size="90.5" font-weight="bold" textLength="636" lengthAdjust="spacingAndGlyphs" style="font-family:'Liberation Sans',sans-serif" x="567" y="84" fill="#1866cc" stroke="#1866cc" stroke-width="7">P&#305;p&#305;ng des&#305;gner</text>
<circle cx="638" cy="23.2" r="8.5" fill="#1866cc"/>
<circle cx="712" cy="23.5" r="8.5" fill="#1866cc"/>
<circle cx="1008" cy="23" r="8.5" fill="#1866cc"/>
<text font-size="90.5" font-weight="bold" textLength="636" lengthAdjust="spacingAndGlyphs" style="font-family:'Liberation Sans',sans-serif" x="568" y="83" fill="#1866cc" stroke="#1866cc" stroke-width="7">P&#305;p&#305;ng des&#305;gner</text>
<circle cx="639" cy="22.2" r="8.5" fill="#1866cc"/>
<circle cx="713" cy="22.5" r="8.5" fill="#1866cc"/>
<circle cx="1009" cy="22" r="8.5" fill="#1866cc"/>
<text font-size="90.5" font-weight="bold" textLength="636" lengthAdjust="spacingAndGlyphs" style="font-family:'Liberation Sans',sans-serif" x="569" y="82" fill="#1866cc" stroke="#1866cc" stroke-width="7">P&#305;p&#305;ng des&#305;gner</text>
<circle cx="640" cy="21.2" r="8.5" fill="#1866cc"/>
<circle cx="714" cy="21.5" r="8.5" fill="#1866cc"/>
<circle cx="1010" cy="21" r="8.5" fill="#1866cc"/>
<text font-size="90.5" font-weight="bold" textLength="636" lengthAdjust="spacingAndGlyphs" style="font-family:'Liberation Sans',sans-serif" x="570" y="81" fill="#1866cc" stroke="#1866cc" stroke-width="7">P&#305;p&#305;ng des&#305;gner</text>
<circle cx="641" cy="20.2" r="8.5" fill="#1866cc"/>
<circle cx="715" cy="20.5" r="8.5" fill="#1866cc"/>
<circle cx="1011" cy="20" r="8.5" fill="#1866cc"/>
<text font-size="90.5" font-weight="bold" textLength="636" lengthAdjust="spacingAndGlyphs" style="font-family:'Liberation Sans',sans-serif" x="571" y="80" fill="#1866cc" stroke="#1866cc" stroke-width="7">P&#305;p&#305;ng des&#305;gner</text>
<circle cx="642" cy="19.2" r="8.5" fill="#1866cc"/>
<circle cx="716" cy="19.5" r="8.5" fill="#1866cc"/>
<circle cx="1012" cy="19" r="8.5" fill="#1866cc"/>
<text font-size="90.5" font-weight="bold" textLength="636" lengthAdjust="spacingAndGlyphs" style="font-family:'Liberation Sans',sans-serif" x="572" y="79" fill="#fff" stroke="#2a3550" stroke-width="8">P&#305;p&#305;ng des&#305;gner</text>
<text font-size="90.5" font-weight="bold" textLength="636" lengthAdjust="spacingAndGlyphs" style="font-family:'Liberation Sans',sans-serif" x="572" y="79" fill="#fff" stroke="#fff" stroke-width="5">P&#305;p&#305;ng des&#305;gner</text>
<circle cx="643" cy="18.2" r="7.6" fill="#fff" stroke="#2a3550" stroke-width="1.8"/>
<circle cx="717" cy="18.5" r="7.6" fill="#fff" stroke="#2a3550" stroke-width="1.8"/>
<circle cx="1013" cy="18" r="7.6" fill="#fff" stroke="#2a3550" stroke-width="1.8"/>
</svg>
</body></html>
